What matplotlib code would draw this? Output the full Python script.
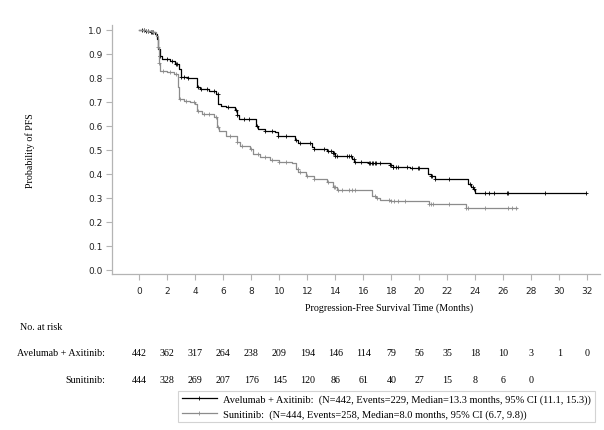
import numpy as np
import matplotlib
matplotlib.use("Agg")
import matplotlib.pyplot as plt
from matplotlib.lines import Line2D
from matplotlib.transforms import blended_transform_factory

# Kaplan-Meier steps (time in months, survival after the step)
ava_t = [0, 0.4, 0.8, 1.1, 1.25, 1.35, 1.45, 1.6, 2.2, 2.55, 2.8, 2.95, 3.5, 4.15, 4.3, 5.0,
         5.5, 5.65, 5.8, 6.2, 6.8, 6.95, 7.15, 8.35, 8.5, 9.0, 9.7, 9.9, 11.15, 11.3, 12.35,
         12.45, 13.4, 13.8, 14.0, 15.2, 15.35, 16.3, 17.9, 18.1, 19.3, 20.65, 20.8, 21.1,
         23.5, 23.7, 23.85, 24.0, 31.9]
ava_s = [1.0, 0.995, 0.99, 0.982, 0.96, 0.92, 0.89, 0.878, 0.868, 0.857, 0.836, 0.805, 0.799,
         0.76, 0.752, 0.746, 0.732, 0.69, 0.683, 0.677, 0.666, 0.645, 0.628, 0.6, 0.586, 0.579,
         0.572, 0.558, 0.54, 0.528, 0.51, 0.503, 0.496, 0.485, 0.475, 0.46, 0.45, 0.443, 0.438,
         0.43, 0.424, 0.40, 0.39, 0.378, 0.357, 0.345, 0.338, 0.318, 0.318]
ava_cens = [0.2, 0.35, 0.5, 0.65, 0.8, 0.9, 1.0, 1.5, 2.0, 2.3, 2.6, 2.7, 3.0, 3.2, 3.5, 4.2,
            4.4, 4.8, 5.3, 5.6, 6.3, 6.9, 7.0, 7.5, 7.8, 8.4, 9.0, 9.5, 9.9, 10.5, 11.2, 11.5,
            12.2, 12.5, 13.2, 13.5, 13.7, 13.8, 13.9, 14.0, 14.1, 14.8, 15.0, 15.1, 15.3, 15.4,
            15.8, 16.4, 16.5, 16.6, 16.7, 16.8, 16.9, 17.2, 17.9, 18.0, 18.1, 18.15, 18.3,
            18.5, 19.1, 19.5, 19.9, 20.0, 20.8, 20.9, 21.1, 22.1, 23.6, 23.8, 23.9, 24.7,
            25.0, 25.3, 26.25, 26.35, 29.0, 31.9]

sun_t = [0, 0.5, 0.9, 1.2, 1.3, 1.4, 1.5, 2.0, 2.45, 2.75, 2.85, 3.2, 3.6, 4.0, 4.15, 4.5,
         5.3, 5.55, 5.7, 6.2, 6.95, 7.2, 7.9, 8.1, 8.6, 9.3, 10.0, 10.9, 11.2, 11.35, 11.9,
         12.5, 13.4, 13.8, 14.1, 16.6, 16.9, 17.2, 18.0, 20.7, 23.3, 27.0]
sun_s = [1.0, 0.995, 0.99, 0.975, 0.93, 0.86, 0.83, 0.822, 0.815, 0.76, 0.712, 0.704, 0.697,
         0.69, 0.66, 0.649, 0.635, 0.595, 0.579, 0.558, 0.531, 0.517, 0.503, 0.482, 0.468,
         0.458, 0.45, 0.445, 0.42, 0.406, 0.389, 0.378, 0.367, 0.345, 0.333, 0.308, 0.297,
         0.29, 0.288, 0.274, 0.256, 0.256]
sun_cens = [0.3, 0.6, 1.0, 1.3, 1.4, 1.7, 2.2, 2.6, 2.9, 3.3, 3.9, 4.2, 4.6, 5.0, 5.5, 5.6,
            6.5, 7.0, 7.3, 8.0, 8.5, 9.0, 9.5, 10.0, 10.5, 11.3, 11.5, 12.0, 12.5, 13.5, 13.9,
            14.0, 14.2, 14.5, 15.0, 15.2, 15.4, 16.8, 17.0, 17.8, 18.0, 18.2, 18.5, 19.0,
            20.7, 20.8, 21.0, 22.1, 23.3, 23.5, 24.7, 26.3, 26.6, 26.9]

risk_times = list(range(0, 33, 2))
ava_risk = [442, 362, 317, 264, 238, 209, 194, 146, 114, 79, 56, 35, 18, 10, 3, 1, 0]
sun_risk = [444, 328, 269, 207, 176, 145, 120, 86, 61, 40, 27, 15, 8, 6, 0]

ava_label = "Avelumab + Axitinib:  (N=442, Events=229, Median=13.3 months, 95% CI (11.1, 15.3))"
sun_label = "Sunitinib:  (N=444, Events=258, Median=8.0 months, 95% CI (6.7, 9.8))"

serif = "Liberation Serif"
axis_grey = "#b4b4b4"
sun_grey = "#8c8c8c"

fig = plt.figure(figsize=(6.04, 4.31), dpi=100)
ax = fig.add_axes([112 / 604, 1 - 275 / 431, 488 / 604, 249 / 431])


def surv_at(times, surv, pts):
    idx = np.searchsorted(times, pts, side="right") - 1
    return np.array(surv)[idx]


for t, s, cens, col in [(ava_t, ava_s, ava_cens, "black"), (sun_t, sun_s, sun_cens, sun_grey)]:
    ax.plot(t, s, drawstyle="steps-post", color=col, lw=0.9)
    ax.plot(cens, surv_at(t, s, cens), ls="none", marker="+", ms=3.3, mew=0.6, color=col)

ax.set_xlim(-1.95, 32.9)
ax.set_ylim(-0.018, 1.02)
ax.set_xticks(risk_times)
ax.set_yticks(np.arange(0, 1.01, 0.1))
ax.set_yticklabels([f"{v:.1f}" for v in np.arange(0, 1.01, 0.1)])
for sp in ["top", "right"]:
    ax.spines[sp].set_visible(False)
for sp in ["left", "bottom"]:
    ax.spines[sp].set_color(axis_grey)
    ax.spines[sp].set_linewidth(0.9)
ax.tick_params(colors=axis_grey, labelcolor="#222222", labelsize=6.5, length=4, width=0.8, pad=3)
ax.tick_params(axis="x", pad=5)

ax.set_ylabel("Probability of PFS", family=serif, fontsize=7.2, labelpad=38)
fig.text(389 / 604, 1 - 308 / 431, "Progression-Free Survival Time (Months)", family=serif,
         fontsize=7.2, ha="center", va="center")

# at-risk table
tr = blended_transform_factory(ax.transData, fig.transFigure)
fig.text(20 / 604, 1 - 328 / 431, "No. at risk", family=serif, fontsize=7.2, va="center")
fig.text(105 / 604, 1 - 353 / 431, "Avelumab + Axitinib:", family=serif, fontsize=7.2,
         va="center", ha="right")
fig.text(105 / 604, 1 - 381 / 431, "Sunitinib:", family=serif, fontsize=7.2, va="center", ha="right")
for t, n in zip(risk_times, ava_risk):
    ax.text(t, 1 - 353 / 431, str(n), transform=tr, family=serif, fontsize=7.2,
            ha="center", va="center", clip_on=False)
for t, n in zip(risk_times, sun_risk):
    ax.text(t, 1 - 381 / 431, str(n), transform=tr, family=serif, fontsize=7.2,
            ha="center", va="center", clip_on=False)

handles = [Line2D([], [], color="black", lw=0.9, marker="+", ms=3.5, mew=0.6),
           Line2D([], [], color=sun_grey, lw=0.9, marker="+", ms=3.5, mew=0.6)]
leg = fig.legend(handles, [ava_label, sun_label], loc="upper left",
                 bbox_to_anchor=(178 / 604, 1 - 392 / 431), borderaxespad=0,
                 prop={"family": serif, "size": 7.5}, frameon=True, fancybox=False,
                 handlelength=3.4, handletextpad=0.6, labelspacing=0.45,
                 borderpad=0.35, numpoints=1)
leg.get_frame().set_edgecolor("#c8c8c8")
leg.get_frame().set_linewidth(0.8)

fig.savefig("out.png", dpi=100)
